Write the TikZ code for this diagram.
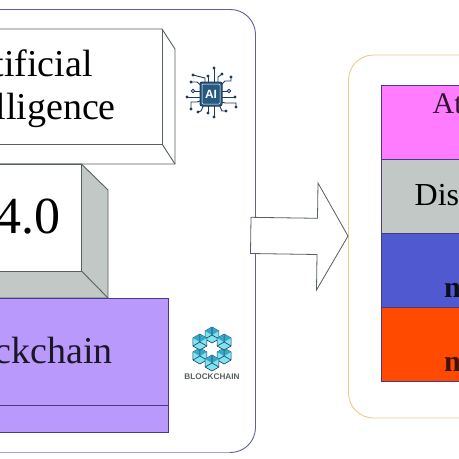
\documentclass[tikz,border=0pt]{standalone}
\usepackage{fontspec}
\setmainfont{Liberation Serif}
\newfontfamily\logofont{Liberation Sans}[Scale=1]
\usetikzlibrary{calc}
\definecolor{panelblue}{HTML}{5F5FA8}
\definecolor{panellight}{HTML}{A4A4E4}
\definecolor{panelgold}{HTML}{EACB8C}
\definecolor{sidegray}{HTML}{C2C8C6}
\definecolor{edgegray}{HTML}{566060}
\definecolor{chain}{HTML}{B999FB}
\definecolor{chainedge}{HTML}{4A3A80}
\definecolor{pinkbar}{HTML}{FF7BFF}
\definecolor{bluebar}{HTML}{5059D0}
\definecolor{redbar}{HTML}{FF4A00}
\definecolor{chipnavy}{HTML}{1F3A5F}
\definecolor{cubelight}{HTML}{7FE3F0}
\definecolor{cubedark}{HTML}{35A8C8}
\tikzset{
  panel/.style={line width=0.9pt,rounded corners=25pt,fill=white},
  facebox/.style={draw=edgegray,line width=0.9pt},
  bar/.style={draw=chainedge,line width=0.8pt},
  bigtext/.style={font=\fontsize{38}{38}\selectfont,inner sep=0pt,anchor=base east,text=black},
  bartext/.style={font=\fontsize{32}{32}\selectfont,inner sep=0pt,anchor=base west,text=black},
  trace/.style={draw=chipnavy,line width=0.9pt},
  cube/.style={fill=cubelight,draw=chipnavy,line width=0.6pt}
}
\begin{document}
\begin{tikzpicture}[x=1pt,y=-1pt]
\useasboundingbox (0,0) rectangle (459,459);
\begin{scope}
\clip (0,0) rectangle (459,459);
\fill[white] (0,0) rectangle (459,459);
% panels
\draw[panel,draw=panelblue] (-60,9.5) -- (255.5,9.5) -- (255.5,452.5) -- (-60,452.5) -- cycle;
\draw[panellight,line width=1pt] (-10,452.5) -- (230,452.5);
\draw[panel,draw=panelgold] (520,55) -- (348.5,55) -- (348.5,418) -- (520,418) -- cycle;
% AI box
\filldraw[facebox,fill=white] (-30,29) -- (162,29) -- (175,49) -- (175,164) -- (-30,164) -- cycle;
\draw[facebox] (162,29) -- (162,144) -- (-30,144);
\draw[facebox] (162,144) -- (175,164);
\node[bigtext] (ai1) at (93,76) {Artificial};
\node[bigtext] (ai2) at (116,119) {Intelligence};
% 4.0 box
\filldraw[facebox,fill=sidegray] (-30,164) -- (81.5,164) -- (108,190) -- (108,298) -- (-30,298) -- cycle;
\filldraw[facebox,fill=white] (-30,164) rectangle (81.5,271);
\draw[facebox] (81.5,271) -- (108,298);
\node[bigtext,font=\fontsize{52}{52}\selectfont] (four) at (61,233) {4.0};
% blockchain
\filldraw[bar,fill=chain] (-30,298) rectangle (168.5,432);
\draw[bar] (-30,405.7) -- (168.5,405.7);
\node[bigtext,text=black!85!chain] (bc) at (113,363) {Blockchain};
% arrow
\filldraw[draw=edgegray,fill=white,line width=0.8pt] (251,217.3) -- (317.5,218.3) -- (318,183) -- (348,236) -- (316.5,290) -- (317,254.5) -- (250.5,253.5) -- cycle;
% bars
\filldraw[bar,fill=pinkbar] (381.5,85) rectangle (480,159);
\filldraw[bar,fill=sidegray] (381.5,159) rectangle (480,233.5);
\filldraw[bar,fill=bluebar] (381.5,233.5) rectangle (480,307);
\filldraw[bar,fill=redbar] (381.5,307) rectangle (480,381.5);
\node[bartext,font=\fontsize{30}{30}\selectfont,text=black!82!pinkbar] (t1) at (432.5,113) {At};
\node[bartext] (t2) at (414.5,205) {Dis};
\node[bartext,font=\bfseries\fontsize{30}{30}\selectfont,text=black!85!bluebar] (t3) at (444,297) {n};
\node[bartext,font=\bfseries\fontsize{30}{30}\selectfont,text=black!75!redbar] (t4) at (444,371) {n};
% AI icon
\begin{scope}[shift={(211,94)}]
\foreach \a/\b/\c/\d in {-8/-3/-17/-3,-8/3/-24/3,8/-3/17/-3,8/3/24/3,3/-8/3/-26,-3/8/-3/19,3/8/3/23,-3/-8/-3/-18}
  \draw[trace] (\a,\b) -- (\c,\d);
\draw[trace] (-6,-8) -- (-6,-16) -- (-18,-19);
\draw[trace] (7,-8) -- (7,-17) -- (11,-20);
\draw[trace] (8,-7) -- (14,-13) -- (20,-13) -- (20,-17);
\draw[trace] (-8,-7) -- (-14,-12) -- (-20,-12);
\draw[trace] (-8,6) -- (-14,8) -- (-20,8) -- (-20,15);
\draw[trace] (8,7) -- (14,9) -- (25,9) -- (25,13);
\draw[trace] (-6,8) -- (-10,17) -- (-13,18);
\draw[trace] (7,8) -- (11,17) -- (15,17);
\foreach \x/\y in {-24/3,24/3,3/-26,-3/19,3/23,-3/-18,-18/-19,11/-20,20/-17,-20/-12,-20/15,25/13,-13/18,15/17}
  \fill[chipnavy] (\x,\y) circle (1.6pt);
\filldraw[draw=chipnavy,fill=white,line width=0.9pt] (-18,-3) circle (1.8pt) (18,-3) circle (1.8pt);
\filldraw[draw=chipnavy,fill=chipnavy!70!cubedark,line width=1pt,rounded corners=2pt] (-11,-12) rectangle (11,12);
\draw[white,line width=0.5pt,rounded corners=1pt] (-9,-10) rectangle (9,10);
\node[inner sep=0pt,text=white,font=\logofont\bfseries\fontsize{12}{12}\selectfont] (ailogo) at (0,0) {AI};
\end{scope}
% blockchain icon
\begin{scope}[shift={(212,349)}]
\foreach \a in {30,150,270,90,210,330}{
  \begin{scope}[shift={(\a:14)}]
    \filldraw[cube] (90:8) -- (30:8) -- (-30:8) -- (-90:8) -- (-150:8) -- (150:8) -- cycle;
    \fill[cubedark] (0,0) -- (-30:8) -- (-90:8) -- (-150:8) -- cycle;
    \draw[chipnavy,line width=0.6pt] (0,0) -- (30:8) (0,0) -- (150:8) (0,0) -- (-90:8);
  \end{scope}}
\fill[white] (0,0) circle (5pt);
\end{scope}
\node[inner sep=0pt,text=edgegray,font=\logofont\bfseries\fontsize{8.2}{8.2}\selectfont] (bclogo) at (212,377) {BLOCKCHAIN};
\end{scope}
\end{tikzpicture}
\end{document}
